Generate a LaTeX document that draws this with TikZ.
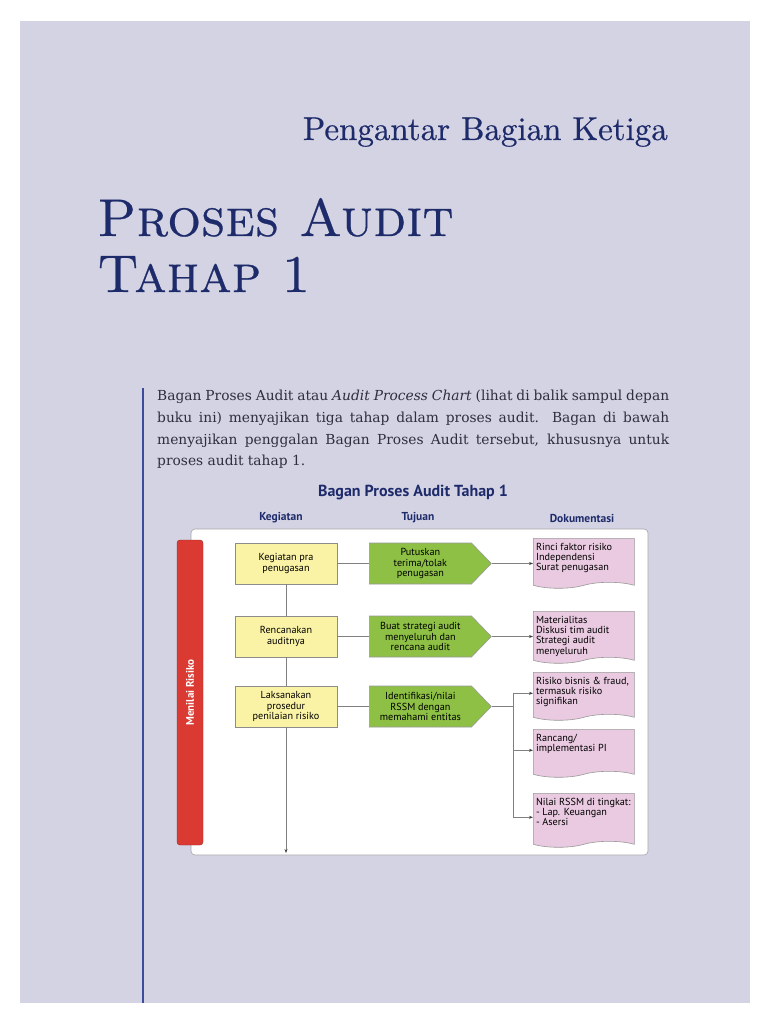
\documentclass[tikz,border=0pt]{standalone}
\usepackage{fontspec}
\usepackage{xcolor}
\usetikzlibrary{shapes.symbols, arrows.meta, positioning}
\newfontfamily\chartfont{PT Sans}
\newfontfamily\parafont{DejaVu Serif}
\newfontfamily\headfont{lmroman}[Extension=.otf, UprightFont=*10-regular, SmallCapsFont=lmromancaps10-regular, FakeBold=0.5, SmallCapsFeatures={FakeBold=0.5}]
\definecolor{pagebg}{HTML}{D4D3E4}
\definecolor{navy}{HTML}{1E2B6A}
\definecolor{bodytext}{HTML}{2E2E3C}
\definecolor{actyellow}{HTML}{FAF3A6}
\definecolor{goalgreen}{HTML}{8DC044}
\definecolor{docpink}{HTML}{E9CAE0}
\definecolor{riskred}{HTML}{DB3A33}
\definecolor{rulerblue}{HTML}{3C4B9C}
\newcommand{\doctext}[2]{\parbox[c][#1][t]{95.5pt}{\raggedright #2}}

\begin{document}
\begin{tikzpicture}[x=1pt, y=-1pt,
    chart/.style={font=\chartfont\fontsize{10.2}{10.4}\selectfont},
    colhead/.style={font=\chartfont\bfseries\fontsize{11.5}{12}\selectfont, text=navy},
    actbox/.style={chart, draw=black!45, fill=actyellow, line width=0.6pt, minimum width=102pt, minimum height=41pt, inner sep=1pt, align=center},
    goalbox/.style={chart, shape=signal, signal to=east, signal pointer angle=92, draw=black!40, fill=goalgreen, line width=0.6pt, minimum width=122pt, minimum height=41pt, inner sep=1pt, align=center, anchor=west},
    docbox/.style={chart, shape=tape, tape bend top=none, tape bend height=6pt, draw=black!40, fill=docpink, line width=0.6pt, minimum width=101pt, inner xsep=2.75pt, inner ysep=4.5pt, anchor=north west},
    riskbar/.style={draw=riskred!70!black, fill=riskred, rounded corners=3pt, rotate=90, minimum width=305pt, minimum height=26pt, text=white, font=\chartfont\bfseries\fontsize{11}{12}\selectfont},
    link/.style={draw=black!50, line width=0.7pt},
    arrow/.style={link, -{Stealth[length=4pt, width=3pt, black!75]}}
]
    \useasboundingbox (0,0) rectangle (768,1024);
    \fill[white] (0,0) rectangle (768,1024);
    \fill[pagebg] (20,21) rectangle (750,1003);
    \draw[rulerblue, line width=1.5pt] (143,388) -- (143,1003);

    % Page headings.
    \node[anchor=base east, inner sep=0pt, text=navy, font=\headfont\fontsize{33}{36}\selectfont] (part) at (668,140) {Pengantar Bagian Ketiga};
    \node[anchor=base west, inner sep=0pt, text=navy, font=\headfont\fontsize{53}{56}\selectfont\scshape] (title1) at (97,236) {Proses Audit};
    \node[anchor=base west, inner sep=0pt, text=navy, font=\headfont\fontsize{53}{56}\selectfont\scshape] (title2) at (97,292) {Tahap 1};

    \node[anchor=north west, inner sep=0pt, text width=512pt, align=justify, text=bodytext, font=\parafont\fontsize{13.8}{21.7}\selectfont] (intro) at (157,390) {Bagan Proses Audit atau \textit{Audit Process Chart} (lihat di balik sampul depan\linebreak buku ini) menyajikan tiga tahap dalam proses audit. Bagan di bawah\linebreak menyajikan penggalan Bagan Proses Audit tersebut, khususnya untuk\linebreak proses audit tahap 1.};

    % Chart frame and column heads.
    \node[text=navy, font=\chartfont\bfseries\fontsize{16}{18}\selectfont] (charttitle) at (413,492) {Bagan Proses Audit Tahap 1};
    \node[colhead] (headact)  at (281,518) {Kegiatan};
    \node[colhead] (headgoal) at (418,518) {Tujuan};
    \node[colhead] (headdoc)  at (582,518) {Dokumentasi};
    \node[draw=black!35, fill=white, rounded corners=4pt, line width=0.6pt, minimum width=457pt, minimum height=326pt] (panel) at (419.5,692) {};
    \node[riskbar] (risk) at (190,692.5) {Menilai Risiko};

    % Activities and goals.
    \node[actbox] (act1) at (286,563.5) {Kegiatan pra\\penugasan};
    \node[actbox] (act2) at (286,636.5) {Rencanakan\\auditnya};
    \node[actbox] (act3) at (286,706.5) {Laksanakan\\prosedur\\penilaian risiko};
    \node[goalbox] (goal1) at (369,563.5) {Putuskan\\terima/tolak\\penugasan};
    \node[goalbox] (goal2) at (369,636.5) {Buat strategi audit\\menyeluruh dan\\rencana audit};
    \node[goalbox] (goal3) at (369,706.5) {Identifikasi/nilai\\RSSM dengan\\memahami entitas};

    % Documentation.
    \node[docbox] (doc1) at (533,538) {\doctext{35pt}{Rinci faktor risiko\\Independensi\\Surat penugasan}};
    \node[docbox] (doc2) at (533,611) {\doctext{37pt}{Materialitas\\Diskusi tim audit\\Strategi audit\\menyeluruh}};
    \node[docbox] (doc3) at (533,672) {\doctext{33pt}{Risiko bisnis \& fraud,\\termasuk risiko\\signifikan}};
    \node[docbox] (doc4) at (533,729) {\doctext{33pt}{Rancang/\\implementasi PI}};
    \node[docbox] (doc5) at (533,793) {\doctext{39pt}{Nilai RSSM di tingkat:\\- Lap. Keuangan\\- Asersi}};

    % Connectors.
    \coordinate (flowend) at (286,853);
    \coordinate (fork) at (513,706.5);
    \draw[link] (act1) -- (act2);
    \draw[link] (act2) -- (act3);
    \draw[arrow] (act3) -- (flowend);
    \foreach \i in {1,2,3}
        \draw[link] (act\i) -- (goal\i);
    \draw[arrow] (goal1.east) -- (goal1.east -| doc1.west);
    \draw[arrow] (goal2.east) -- (goal2.east -| doc2.west);
    \draw[link] (goal3.east) -- (fork);
    \draw[link] (fork |- doc3.west) -- (fork |- doc5.west);
    \foreach \d in {doc3, doc4, doc5}
        \draw[arrow] (fork |- \d.west) -- (\d.west);
\end{tikzpicture}
\end{document}
